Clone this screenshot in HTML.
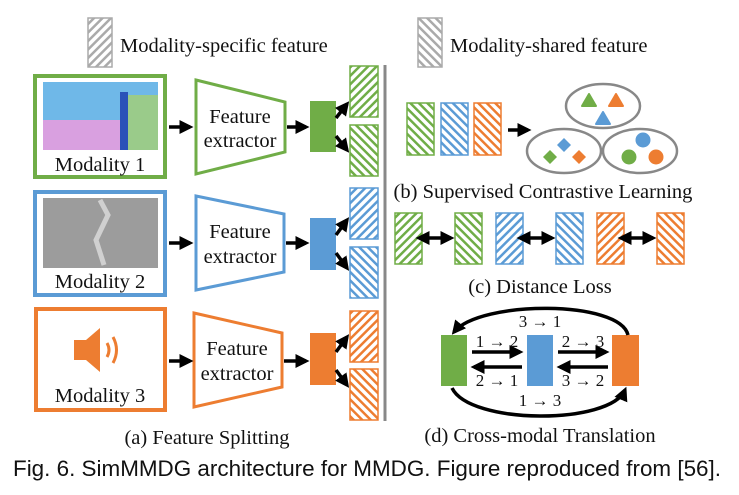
<!DOCTYPE html>
<html><head><meta charset="utf-8"><style>
html,body{margin:0;padding:0;background:#fff;width:739px;height:495px;overflow:hidden}
svg{display:block}
.t{font-family:"Liberation Serif",serif;font-size:20.5px;fill:#111}
.s{font-size:17px}
</style></head><body>
<svg width="739" height="495" viewBox="0 0 739 495" xmlns="http://www.w3.org/2000/svg">
<defs>
<pattern id="gS" width="6" height="6" patternUnits="userSpaceOnUse" patternTransform="rotate(45)"><rect width="6" height="6" fill="#fff"/><rect width="2.5" height="6" fill="#70ad47"/></pattern>
<pattern id="gH" width="6" height="6" patternUnits="userSpaceOnUse" patternTransform="rotate(-45)"><rect width="6" height="6" fill="#fff"/><rect width="2.5" height="6" fill="#70ad47"/></pattern>
<pattern id="bS" width="6" height="6" patternUnits="userSpaceOnUse" patternTransform="rotate(45)"><rect width="6" height="6" fill="#fff"/><rect width="2.5" height="6" fill="#5b9bd5"/></pattern>
<pattern id="bH" width="6" height="6" patternUnits="userSpaceOnUse" patternTransform="rotate(-45)"><rect width="6" height="6" fill="#fff"/><rect width="2.5" height="6" fill="#5b9bd5"/></pattern>
<pattern id="oS" width="6" height="6" patternUnits="userSpaceOnUse" patternTransform="rotate(45)"><rect width="6" height="6" fill="#fff"/><rect width="2.5" height="6" fill="#ed7d31"/></pattern>
<pattern id="oH" width="6" height="6" patternUnits="userSpaceOnUse" patternTransform="rotate(-45)"><rect width="6" height="6" fill="#fff"/><rect width="2.5" height="6" fill="#ed7d31"/></pattern>
<pattern id="kS" width="6" height="6" patternUnits="userSpaceOnUse" patternTransform="rotate(45)"><rect width="6" height="6" fill="#fff"/><rect width="2.5" height="6" fill="#aaa"/></pattern>
<pattern id="kH" width="6" height="6" patternUnits="userSpaceOnUse" patternTransform="rotate(-45)"><rect width="6" height="6" fill="#fff"/><rect width="2.5" height="6" fill="#aaa"/></pattern>
<marker id="ah" markerWidth="4" markerHeight="4" refX="3" refY="2" orient="auto" markerUnits="strokeWidth"><path d="M0,0 L4,2 L0,4Z" fill="#000"/></marker>
<marker id="as" markerWidth="4" markerHeight="4" refX="1" refY="2" orient="auto-start-reverse" markerUnits="strokeWidth"><path d="M0,0 L4,2 L0,4Z" fill="#000"/></marker>
</defs>

<!-- legend -->
<rect x="88" y="18" width="24" height="49" fill="url(#kS)" stroke="#aaa" stroke-width="1.5"/>
<text class="t" x="120" y="52">Modality-specific feature</text>
<rect x="418" y="18" width="24" height="49" fill="url(#kH)" stroke="#aaa" stroke-width="1.5"/>
<text class="t" x="450" y="52">Modality-shared feature</text>

<line x1="385" y1="65" x2="385" y2="421" stroke="#888" stroke-width="3"/>

<!-- row 1 -->
<rect x="35" y="76" width="130" height="101" fill="#fff" stroke="#70ad47" stroke-width="4"/>
<rect x="43" y="82" width="115" height="68" fill="#6fb8e8"/>
<rect x="43" y="120" width="80" height="30" fill="#d9a0e0"/>
<rect x="125" y="95" width="33" height="55" fill="#9acb8a"/>
<rect x="120" y="92" width="8" height="58" fill="#2a52b8"/>
<text class="t" x="100" y="171" text-anchor="middle">Modality 1</text>
<path d="M196,80 L285,102 L285,152 L196,174Z" fill="#fff" stroke="#70ad47" stroke-width="3"/>
<text class="t" x="240" y="123" text-anchor="middle">Feature</text>
<text class="t" x="240" y="147" text-anchor="middle">extractor</text>
<rect x="310" y="101" width="26" height="51" fill="#70ad47"/>
<rect x="350" y="66" width="28" height="51" fill="url(#gS)" stroke="#70ad47" stroke-width="1.5"/>
<rect x="350" y="125" width="28" height="51" fill="url(#gH)" stroke="#70ad47" stroke-width="1.5"/>

<!-- row 2 -->
<rect x="35" y="192" width="130" height="103" fill="#fff" stroke="#5b9bd5" stroke-width="4"/>
<rect x="43" y="198" width="115" height="70" fill="#9c9c9c"/>
<path d="M100,200 L108,215 L96,240 L104,265" stroke="#d0d0d0" stroke-width="5" fill="none"/>
<text class="t" x="100" y="288" text-anchor="middle">Modality 2</text>
<path d="M196,196 L284,214 L284,272 L196,290Z" fill="#fff" stroke="#5b9bd5" stroke-width="3"/>
<text class="t" x="240" y="238" text-anchor="middle">Feature</text>
<text class="t" x="240" y="263" text-anchor="middle">extractor</text>
<rect x="310" y="218" width="26" height="52" fill="#5b9bd5"/>
<rect x="350" y="188" width="28" height="51" fill="url(#bS)" stroke="#5b9bd5" stroke-width="1.5"/>
<rect x="350" y="247" width="28" height="51" fill="url(#bH)" stroke="#5b9bd5" stroke-width="1.5"/>

<!-- row 3 -->
<rect x="36" y="309" width="129" height="101" fill="#fff" stroke="#ed7d31" stroke-width="4"/>
<path d="M74,340 L86,340 L100,328 L100,372 L86,360 L74,360Z" fill="#ed7d31"/>
<path d="M107,343 Q111,350 107,357" stroke="#ed7d31" stroke-width="3" fill="none"/>
<path d="M113,337 Q120,350 113,363" stroke="#ed7d31" stroke-width="3" fill="none"/>
<text class="t" x="100" y="402" text-anchor="middle">Modality 3</text>
<path d="M194,313 L282,333 L282,387 L194,407Z" fill="#fff" stroke="#ed7d31" stroke-width="3"/>
<text class="t" x="237" y="355" text-anchor="middle">Feature</text>
<text class="t" x="237" y="380" text-anchor="middle">extractor</text>
<rect x="310" y="333" width="26" height="52" fill="#ed7d31"/>
<rect x="350" y="311" width="28" height="51" fill="url(#oS)" stroke="#ed7d31" stroke-width="1.5"/>
<rect x="350" y="369" width="28" height="51" fill="url(#oH)" stroke="#ed7d31" stroke-width="1.5"/>

<g stroke="#000" stroke-width="3.5" fill="none">
<line x1="169" y1="127" x2="190" y2="127" marker-end="url(#ah)"/>
<line x1="287" y1="127" x2="306" y2="127" marker-end="url(#ah)"/>
<path d="M336,118 L347,104" marker-end="url(#ah)"/><path d="M336,136 L347,150" marker-end="url(#ah)"/>
<line x1="169" y1="243" x2="190" y2="243" marker-end="url(#ah)"/>
<line x1="286" y1="243" x2="306" y2="243" marker-end="url(#ah)"/>
<path d="M336,235 L347,220" marker-end="url(#ah)"/><path d="M336,253 L347,268" marker-end="url(#ah)"/>
<line x1="169" y1="361" x2="190" y2="361" marker-end="url(#ah)"/>
<line x1="284" y1="361" x2="306" y2="361" marker-end="url(#ah)"/>
<path d="M336,352 L347,337" marker-end="url(#ah)"/><path d="M336,370 L347,385" marker-end="url(#ah)"/>
</g>
<text class="t" x="207" y="444" text-anchor="middle">(a) Feature Splitting</text>

<!-- (b) -->
<rect x="407" y="103" width="27" height="52" fill="url(#gH)" stroke="#70ad47" stroke-width="1.5"/>
<rect x="441" y="103" width="27" height="52" fill="url(#bH)" stroke="#5b9bd5" stroke-width="1.5"/>
<rect x="474" y="103" width="27" height="52" fill="url(#oH)" stroke="#ed7d31" stroke-width="1.5"/>
<line x1="508" y1="130" x2="528" y2="130" stroke="#000" stroke-width="3.5" marker-end="url(#ah)"/>
<g fill="#fff" stroke="#888" stroke-width="2.5">
<ellipse cx="603" cy="106" rx="37" ry="22"/>
<ellipse cx="564" cy="151" rx="37" ry="22"/>
<ellipse cx="640" cy="151" rx="37" ry="22"/>
</g>
<path d="M582,106 L596,106 L589,94Z" fill="#70ad47" stroke="#70ad47" stroke-width="2" stroke-linejoin="round"/>
<path d="M609,106 L623,106 L616,94Z" fill="#ed7d31" stroke="#ed7d31" stroke-width="2" stroke-linejoin="round"/>
<path d="M596,124 L610,124 L603,112Z" fill="#5b9bd5" stroke="#5b9bd5" stroke-width="2" stroke-linejoin="round"/>
<path d="M564,138 L571,145 L564,152 L557,145Z" fill="#5b9bd5"/>
<path d="M550,150 L557,157 L550,164 L543,157Z" fill="#70ad47"/>
<path d="M579,150 L586,157 L579,164 L572,157Z" fill="#ed7d31"/>
<circle cx="643" cy="140" r="7.5" fill="#5b9bd5"/>
<circle cx="629" cy="157" r="7.5" fill="#70ad47"/>
<circle cx="656" cy="157" r="7.5" fill="#ed7d31"/>
<text class="t" x="543" y="198" text-anchor="middle">(b) Supervised Contrastive Learning</text>

<!-- (c) -->
<rect x="395" y="213" width="27" height="51" fill="url(#gS)" stroke="#70ad47" stroke-width="1.5"/>
<rect x="455" y="213" width="27" height="51" fill="url(#gH)" stroke="#70ad47" stroke-width="1.5"/>
<rect x="496" y="213" width="27" height="51" fill="url(#bS)" stroke="#5b9bd5" stroke-width="1.5"/>
<rect x="556" y="213" width="27" height="51" fill="url(#bH)" stroke="#5b9bd5" stroke-width="1.5"/>
<rect x="597" y="213" width="27" height="51" fill="url(#oS)" stroke="#ed7d31" stroke-width="1.5"/>
<rect x="657" y="213" width="27" height="51" fill="url(#oH)" stroke="#ed7d31" stroke-width="1.5"/>
<g stroke="#000" stroke-width="3.5">
<line x1="426" y1="238" x2="451" y2="238" marker-start="url(#as)" marker-end="url(#ah)"/>
<line x1="527" y1="238" x2="552" y2="238" marker-start="url(#as)" marker-end="url(#ah)"/>
<line x1="628" y1="238" x2="653" y2="238" marker-start="url(#as)" marker-end="url(#ah)"/>
</g>
<text class="t" x="540" y="293" text-anchor="middle">(c) Distance Loss</text>

<!-- (d) -->
<rect x="441" y="335" width="26" height="51" fill="#70ad47"/>
<rect x="527" y="335" width="26" height="51" fill="#5b9bd5"/>
<rect x="612" y="335" width="27" height="51" fill="#ed7d31"/>
<g stroke="#000" stroke-width="3.5" fill="none">
<line x1="472" y1="352" x2="520" y2="352" marker-end="url(#ah)"/>
<line x1="522" y1="367" x2="474" y2="367" marker-end="url(#ah)"/>
<line x1="558" y1="352" x2="606" y2="352" marker-end="url(#ah)"/>
<line x1="608" y1="367" x2="560" y2="367" marker-end="url(#ah)"/>
<path d="M628,335 C620,300 480,300 454,332" marker-end="url(#ah)"/>
<path d="M452,388 C470,425 610,425 625,390" marker-end="url(#ah)"/>
</g>
<text class="t s" x="540" y="327" text-anchor="middle">3 → 1</text>
<text class="t s" x="497" y="347" text-anchor="middle">1 → 2</text>
<text class="t s" x="583" y="347" text-anchor="middle">2 → 3</text>
<text class="t s" x="497" y="386" text-anchor="middle">2 → 1</text>
<text class="t s" x="583" y="386" text-anchor="middle">3 → 2</text>
<text class="t s" x="540" y="406" text-anchor="middle">1 → 3</text>
<text class="t" x="540" y="442" text-anchor="middle">(d) Cross-modal Translation</text>

<text x="13" y="476" textLength="708" lengthAdjust="spacingAndGlyphs" style="font-family:'Liberation Sans',sans-serif;font-size:22px;fill:#111">Fig. 6. SimMMDG architecture for MMDG. Figure reproduced from [56].</text>
</svg>
</body></html>
